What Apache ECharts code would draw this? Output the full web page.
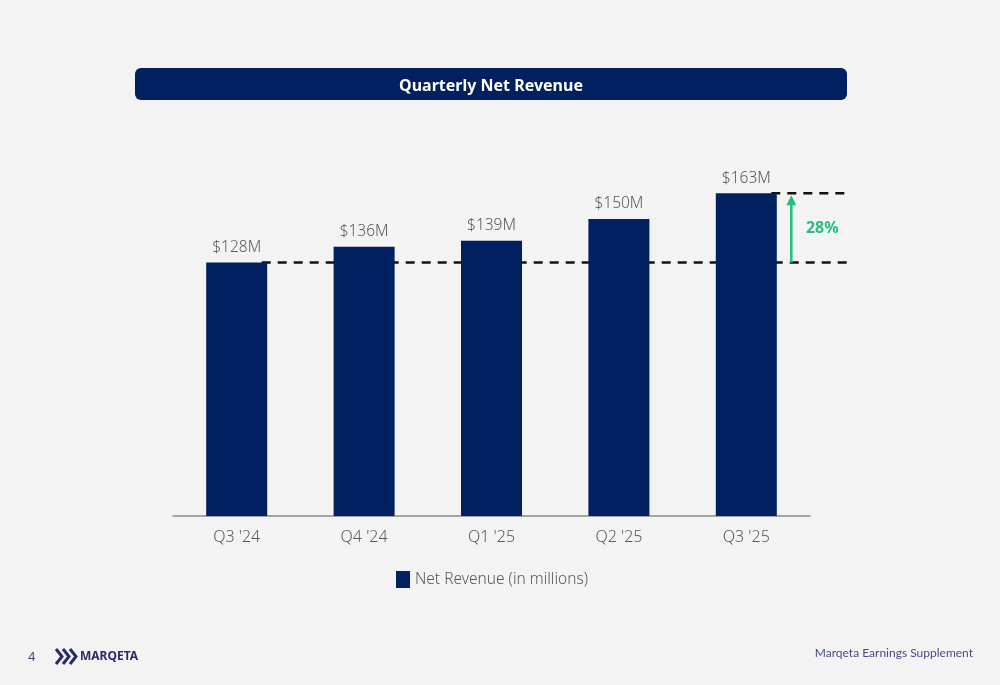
<!DOCTYPE html>
<html>
<head>
<meta charset="utf-8">
<script src="https://cdn.jsdelivr.net/npm/echarts@6/dist/echarts.min.js"></script>
<style>
  html, body { margin: 0; padding: 0; background: #f3f3f3; }
  #main { width: 1000px; height: 685px; }
</style>
</head>
<body>
<div id="main"></div>
<script>
  const quarters = ["Q3 '24", "Q4 '24", "Q1 '25", "Q2 '25", "Q3 '25"];
  const revenue = [128, 136, 139, 150, 163];
  const growthLabel = "28%";

  const navy = "#012060";
  const gray = "#595959";
  const green = "#22bf7e";
  const font = "Noto Sans";

  var chart = echarts.init(document.getElementById("main"));

  const option = {
    backgroundColor: "#f3f3f3",
    animation: false,
    textStyle: { fontFamily: font },
    grid: { left: 173, right: 190, top: 120, bottom: 169 },
    legend: {
      left: 391,
      top: 566,
      icon: "rect",
      itemWidth: 14,
      itemHeight: 17,
      itemGap: 8,
      textStyle: { fontSize: 15.5, color: gray, fontFamily: font, fontWeight: 300 },
      data: ["Net Revenue (in millions)"],
    },
    xAxis: {
      type: "category",
      data: quarters,
      axisLine: { lineStyle: { color: "#8c8c8c", width: 1.5 } },
      axisTick: { show: false },
      axisLabel: { fontSize: 16, color: gray, margin: 13, fontFamily: font, fontWeight: 300 },
    },
    yAxis: {
      type: "value",
      min: 0,
      max: 200,
      show: false,
    },
    series: [
      {
        name: "Net Revenue (in millions)",
        type: "bar",
        data: revenue,
        barWidth: 61,
        itemStyle: { color: navy },
        label: {
          show: true,
          position: "top",
          distance: 7,
          fontSize: 15.5,
          color: gray,
          fontFamily: font,
          fontWeight: 300,
          formatter: (p) => "$" + p.value + "M",
        },
      },
    ],
  };
  chart.setOption(option);

  // overlay: title bar, comparison lines, footer
  const first = chart.convertToPixel({ seriesIndex: 0 }, [0, revenue[0]]);
  const last = chart.convertToPixel({ seriesIndex: 0 }, [quarters.length - 1, revenue[revenue.length - 1]]);
  const lineEnd = 847;
  const arrowX = last[0] + 45;
  const dash = { stroke: "#111", lineWidth: 2.5, lineDash: [9, 7] };

  const chevron = (x) => ({
    type: "polyline",
    shape: { points: [[x, 649], [x + 6, 656.5], [x, 664]] },
    style: { stroke: "#2b2a6b", lineWidth: 3, fill: null },
  });

  chart.setOption({
    graphic: [
      {
        type: "rect",
        shape: { x: 135, y: 68, width: 712, height: 32, r: 6 },
        style: { fill: navy },
      },
      {
        type: "text",
        x: 491,
        y: 86,
        style: {
          text: "Quarterly Net Revenue",
          fill: "#fff",
          font: "bold 16px " + font,
          align: "center",
          verticalAlign: "middle",
        },
      },
      {
        type: "line",
        shape: { x1: first[0] + 25, y1: first[1], x2: lineEnd, y2: first[1] },
        style: dash,
      },
      {
        type: "line",
        shape: { x1: last[0] + 25, y1: last[1], x2: lineEnd, y2: last[1] },
        style: dash,
      },
      {
        type: "line",
        shape: { x1: arrowX, y1: first[1], x2: arrowX, y2: last[1] + 10 },
        style: { stroke: green, lineWidth: 2.5 },
      },
      {
        type: "polygon",
        shape: { points: [[arrowX - 5, last[1] + 12], [arrowX + 5, last[1] + 12], [arrowX, last[1] + 2]] },
        style: { fill: green },
      },
      {
        type: "text",
        x: arrowX + 31,
        y: (first[1] + last[1]) / 2 + 1,
        style: {
          text: growthLabel,
          fill: green,
          font: "bold 16px " + font,
          align: "center",
          verticalAlign: "middle",
        },
      },
      {
        type: "text",
        x: 28,
        y: 657,
        style: { text: "4", fill: "#4a4a7a", font: "13px " + font, verticalAlign: "middle" },
      },
      chevron(56),
      chevron(63),
      chevron(70),
      {
        type: "text",
        x: 80,
        y: 657,
        style: { text: "MARQETA", fill: "#2b2a6b", font: "bold 12px " + font, verticalAlign: "middle" },
      },
      {
        type: "text",
        x: 973,
        y: 653,
        style: {
          text: "Marqeta Earnings Supplement",
          fill: "#4a4a8a",
          font: "12px Lato",
          align: "right",
          verticalAlign: "middle",
        },
      },
    ],
  });
</script>
</body>
</html>
